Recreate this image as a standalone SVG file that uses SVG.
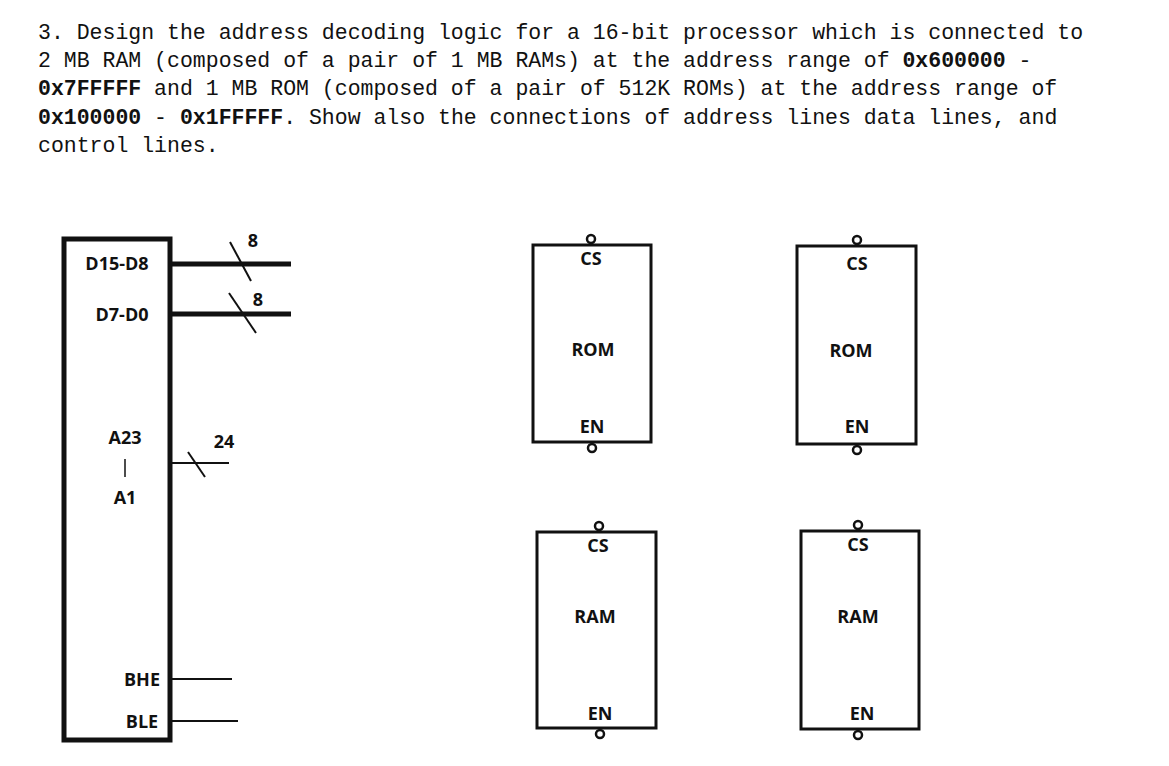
<svg xmlns="http://www.w3.org/2000/svg" width="1169" height="766" viewBox="0 0 1169 766">
<style>
.t{font-family:"Liberation Mono",monospace;font-size:21.5px;fill:#111}
.b{font-weight:bold}
.l{font-family:"Open Sans","Liberation Sans",sans-serif;font-weight:bold;font-size:18px;fill:#111;text-anchor:middle}
.chip{fill:#fff;stroke:#111;stroke-width:3}
.bub{fill:#fff;stroke:#111;stroke-width:2.5}
.w{stroke:#111;fill:none}
</style>
<rect width="1169" height="766" fill="#fff"/>
<g id="question">
<text class="t" x="38" y="39">3. Design the address decoding logic for a 16-bit processor which is connected to</text>
<text class="t" x="38" y="67">2 MB RAM (composed of a pair of 1 MB RAMs) at the address range of <tspan class="b">0x600000</tspan> -</text>
<text class="t" x="38" y="95"><tspan class="b">0x7FFFFF</tspan> and 1 MB ROM (composed of a pair of 512K ROMs) at the address range of</text>
<text class="t" x="38" y="124"><tspan class="b">0x100000</tspan> - <tspan class="b">0x1FFFFF</tspan>. Show also the connections of address lines data lines, and</text>
<text class="t" x="38" y="152">control lines.</text>
</g>
<g id="cpu">
<rect x="64" y="239" width="106" height="501" fill="#fff" stroke="#111" stroke-width="5"/>
<text class="l" x="117" y="270">D15-D8</text>
<text class="l" x="122" y="321">D7-D0</text>
<text class="l" x="125" y="444">A23</text>
<line class="w" x1="125" y1="459" x2="125" y2="477" stroke-width="1.5"/>
<text class="l" x="125" y="504">A1</text>
<text class="l" x="142" y="686">BHE</text>
<text class="l" x="142" y="728">BLE</text>
</g>
<g id="connectors">
<line class="w" x1="170" y1="264" x2="291" y2="264" stroke-width="5"/>
<line class="w" x1="230" y1="242" x2="251" y2="281" stroke-width="2"/>
<text class="l" x="253" y="247">8</text>
<line class="w" x1="170" y1="314" x2="291" y2="314" stroke-width="5"/>
<line class="w" x1="229" y1="293" x2="256" y2="333" stroke-width="2"/>
<text class="l" x="258" y="306">8</text>
<line class="w" x1="170" y1="463" x2="229" y2="463" stroke-width="2"/>
<line class="w" x1="188" y1="452" x2="205" y2="477" stroke-width="2"/>
<text class="l" x="224" y="448">24</text>
<line class="w" x1="170" y1="679" x2="232" y2="679" stroke-width="2"/>
<line class="w" x1="170" y1="721" x2="238" y2="721" stroke-width="2"/>
</g>
<g id="rom1">
<rect class="chip" x="533" y="245" width="118" height="197"/>
<circle class="bub" cx="591" cy="239" r="4"/>
<circle class="bub" cx="592" cy="448" r="4"/>
<text class="l" x="591" y="265">CS</text>
<text class="l" x="593" y="356">ROM</text>
<text class="l" x="592" y="433">EN</text>
</g>
<g id="rom2">
<rect class="chip" x="797" y="246" width="119" height="198"/>
<circle class="bub" cx="857" cy="240" r="4"/>
<circle class="bub" cx="857" cy="450" r="4"/>
<text class="l" x="857" y="270">CS</text>
<text class="l" x="851" y="357">ROM</text>
<text class="l" x="857" y="433">EN</text>
</g>
<g id="ram1">
<rect class="chip" x="537" y="532" width="119" height="196"/>
<circle class="bub" cx="599" cy="526" r="4"/>
<circle class="bub" cx="600" cy="734" r="4"/>
<text class="l" x="598" y="552">CS</text>
<text class="l" x="595" y="623">RAM</text>
<text class="l" x="600" y="720">EN</text>
</g>
<g id="ram2">
<rect class="chip" x="801" y="531" width="118" height="198"/>
<circle class="bub" cx="858" cy="525" r="4"/>
<circle class="bub" cx="858" cy="735" r="4"/>
<text class="l" x="858" y="551">CS</text>
<text class="l" x="858" y="623">RAM</text>
<text class="l" x="862" y="720">EN</text>
</g>
</svg>
